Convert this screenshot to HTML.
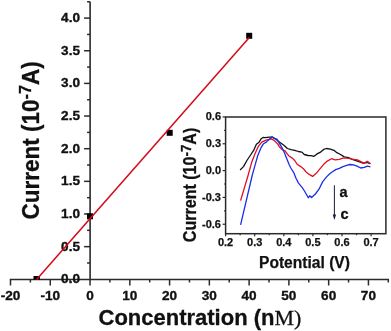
<!DOCTYPE html>
<html><head><meta charset="utf-8"><style>
html,body{margin:0;padding:0;background:#fff;}
svg{display:block;will-change:transform;}
text{font-family:"Liberation Sans", sans-serif;font-weight:bold;fill:#111;}
.tl{font-size:13.6px;stroke:#111;stroke-width:0.35px;}
.it{font-size:11px;stroke:#111;stroke-width:0.25px;}
.big{font-size:22px;stroke:#111;stroke-width:0.3px;}
.mid{font-size:15.6px;stroke:#111;stroke-width:0.25px;}
.ab{font-size:14.5px;stroke:#111;stroke-width:0.3px;}
</style></head><body>
<svg width="391" height="331" viewBox="0 0 391 331">
<rect width="391" height="331" fill="#fff"/>
<line x1="90.1" y1="1.8" x2="90.1" y2="280.3" stroke="#2a2a2a" stroke-width="1.6"/>
<line x1="9.8" y1="279.5" x2="389.0" y2="279.5" stroke="#2a2a2a" stroke-width="1.6"/>
<text x="80.0" y="283.20" text-anchor="end" class="tl">0.0</text>
<line x1="87.1" y1="262.98" x2="90.1" y2="262.98" stroke="#2a2a2a" stroke-width="1.5"/>
<line x1="84.1" y1="246.65" x2="90.1" y2="246.65" stroke="#2a2a2a" stroke-width="1.5"/>
<text x="80.0" y="250.55" text-anchor="end" class="tl">0.5</text>
<line x1="87.1" y1="230.33" x2="90.1" y2="230.33" stroke="#2a2a2a" stroke-width="1.5"/>
<line x1="84.1" y1="214.00" x2="90.1" y2="214.00" stroke="#2a2a2a" stroke-width="1.5"/>
<text x="80.0" y="217.90" text-anchor="end" class="tl">1.0</text>
<line x1="87.1" y1="197.68" x2="90.1" y2="197.68" stroke="#2a2a2a" stroke-width="1.5"/>
<line x1="84.1" y1="181.35" x2="90.1" y2="181.35" stroke="#2a2a2a" stroke-width="1.5"/>
<text x="80.0" y="185.25" text-anchor="end" class="tl">1.5</text>
<line x1="87.1" y1="165.03" x2="90.1" y2="165.03" stroke="#2a2a2a" stroke-width="1.5"/>
<line x1="84.1" y1="148.70" x2="90.1" y2="148.70" stroke="#2a2a2a" stroke-width="1.5"/>
<text x="80.0" y="152.60" text-anchor="end" class="tl">2.0</text>
<line x1="87.1" y1="132.38" x2="90.1" y2="132.38" stroke="#2a2a2a" stroke-width="1.5"/>
<line x1="84.1" y1="116.05" x2="90.1" y2="116.05" stroke="#2a2a2a" stroke-width="1.5"/>
<text x="80.0" y="119.95" text-anchor="end" class="tl">2.5</text>
<line x1="87.1" y1="99.73" x2="90.1" y2="99.73" stroke="#2a2a2a" stroke-width="1.5"/>
<line x1="84.1" y1="83.40" x2="90.1" y2="83.40" stroke="#2a2a2a" stroke-width="1.5"/>
<text x="80.0" y="87.30" text-anchor="end" class="tl">3.0</text>
<line x1="87.1" y1="67.08" x2="90.1" y2="67.08" stroke="#2a2a2a" stroke-width="1.5"/>
<line x1="84.1" y1="50.75" x2="90.1" y2="50.75" stroke="#2a2a2a" stroke-width="1.5"/>
<text x="80.0" y="54.65" text-anchor="end" class="tl">3.5</text>
<line x1="87.1" y1="34.43" x2="90.1" y2="34.43" stroke="#2a2a2a" stroke-width="1.5"/>
<line x1="84.1" y1="18.10" x2="90.1" y2="18.10" stroke="#2a2a2a" stroke-width="1.5"/>
<text x="80.0" y="22.00" text-anchor="end" class="tl">4.0</text>
<line x1="87.1" y1="1.78" x2="90.1" y2="1.78" stroke="#2a2a2a" stroke-width="1.5"/>
<line x1="10.50" y1="279.5" x2="10.50" y2="285.5" stroke="#2a2a2a" stroke-width="1.5"/>
<text x="10.50" y="299.6" text-anchor="middle" class="tl">-20</text>
<line x1="30.38" y1="279.5" x2="30.38" y2="282.5" stroke="#2a2a2a" stroke-width="1.5"/>
<line x1="50.27" y1="279.5" x2="50.27" y2="285.5" stroke="#2a2a2a" stroke-width="1.5"/>
<text x="50.27" y="299.6" text-anchor="middle" class="tl">-10</text>
<line x1="70.16" y1="279.5" x2="70.16" y2="282.5" stroke="#2a2a2a" stroke-width="1.5"/>
<line x1="90.04" y1="279.5" x2="90.04" y2="285.5" stroke="#2a2a2a" stroke-width="1.5"/>
<text x="90.04" y="299.6" text-anchor="middle" class="tl">0</text>
<line x1="109.92" y1="279.5" x2="109.92" y2="282.5" stroke="#2a2a2a" stroke-width="1.5"/>
<line x1="129.81" y1="279.5" x2="129.81" y2="285.5" stroke="#2a2a2a" stroke-width="1.5"/>
<text x="129.81" y="299.6" text-anchor="middle" class="tl">10</text>
<line x1="149.69" y1="279.5" x2="149.69" y2="282.5" stroke="#2a2a2a" stroke-width="1.5"/>
<line x1="169.58" y1="279.5" x2="169.58" y2="285.5" stroke="#2a2a2a" stroke-width="1.5"/>
<text x="169.58" y="299.6" text-anchor="middle" class="tl">20</text>
<line x1="189.47" y1="279.5" x2="189.47" y2="282.5" stroke="#2a2a2a" stroke-width="1.5"/>
<line x1="209.35" y1="279.5" x2="209.35" y2="285.5" stroke="#2a2a2a" stroke-width="1.5"/>
<text x="209.35" y="299.6" text-anchor="middle" class="tl">30</text>
<line x1="229.23" y1="279.5" x2="229.23" y2="282.5" stroke="#2a2a2a" stroke-width="1.5"/>
<line x1="249.12" y1="279.5" x2="249.12" y2="285.5" stroke="#2a2a2a" stroke-width="1.5"/>
<text x="249.12" y="299.6" text-anchor="middle" class="tl">40</text>
<line x1="269.00" y1="279.5" x2="269.00" y2="282.5" stroke="#2a2a2a" stroke-width="1.5"/>
<line x1="288.89" y1="279.5" x2="288.89" y2="285.5" stroke="#2a2a2a" stroke-width="1.5"/>
<text x="288.89" y="299.6" text-anchor="middle" class="tl">50</text>
<line x1="308.77" y1="279.5" x2="308.77" y2="282.5" stroke="#2a2a2a" stroke-width="1.5"/>
<line x1="328.66" y1="279.5" x2="328.66" y2="285.5" stroke="#2a2a2a" stroke-width="1.5"/>
<text x="328.66" y="299.6" text-anchor="middle" class="tl">60</text>
<line x1="348.55" y1="279.5" x2="348.55" y2="282.5" stroke="#2a2a2a" stroke-width="1.5"/>
<line x1="368.43" y1="279.5" x2="368.43" y2="285.5" stroke="#2a2a2a" stroke-width="1.5"/>
<text x="368.43" y="299.6" text-anchor="middle" class="tl">70</text>
<line x1="388.31" y1="279.5" x2="388.31" y2="282.5" stroke="#2a2a2a" stroke-width="1.5"/>
<rect x="33.5" y="276.0" width="6.5" height="3.5" fill="#000"/>
<rect x="87.00" y="213.30" width="6" height="6" fill="#000"/>
<rect x="166.70" y="129.80" width="6" height="6" fill="#000"/>
<rect x="246.20" y="32.80" width="6" height="6" fill="#000"/>
<line x1="36.6" y1="279.5" x2="249.3" y2="37.4" stroke="#d40818" stroke-width="1.5"/>
<text x="98.5" y="325.2" class="big">Concentration (n<tspan font-family="Liberation Serif" font-weight="normal">M)</tspan></text>
<text transform="translate(38.6,219.4) rotate(-90) scale(1.022,1.06)" class="big">Current (10<tspan dy="-7" font-size="16">-7</tspan><tspan dy="7">A)</tspan></text>
<rect x="225.6" y="117.0" width="160.29999999999998" height="116.69999999999999" fill="none" stroke="#2a2a2a" stroke-width="1.5"/>
<line x1="222.6" y1="116.96" x2="225.6" y2="116.96" stroke="#2a2a2a" stroke-width="1.2"/>
<text x="221" y="120.26" text-anchor="end" class="it">0.6</text>
<line x1="224.1" y1="130.37" x2="225.6" y2="130.37" stroke="#2a2a2a" stroke-width="1.2"/>
<line x1="222.6" y1="143.78" x2="225.6" y2="143.78" stroke="#2a2a2a" stroke-width="1.2"/>
<text x="221" y="147.08" text-anchor="end" class="it">0.3</text>
<line x1="224.1" y1="157.19" x2="225.6" y2="157.19" stroke="#2a2a2a" stroke-width="1.2"/>
<line x1="222.6" y1="170.60" x2="225.6" y2="170.60" stroke="#2a2a2a" stroke-width="1.2"/>
<text x="221" y="173.90" text-anchor="end" class="it">0.0</text>
<line x1="224.1" y1="184.01" x2="225.6" y2="184.01" stroke="#2a2a2a" stroke-width="1.2"/>
<line x1="222.6" y1="197.42" x2="225.6" y2="197.42" stroke="#2a2a2a" stroke-width="1.2"/>
<text x="221" y="200.72" text-anchor="end" class="it">-0.3</text>
<line x1="224.1" y1="210.83" x2="225.6" y2="210.83" stroke="#2a2a2a" stroke-width="1.2"/>
<line x1="222.6" y1="224.24" x2="225.6" y2="224.24" stroke="#2a2a2a" stroke-width="1.2"/>
<text x="221" y="227.54" text-anchor="end" class="it">-0.6</text>
<line x1="225.60" y1="233.7" x2="225.60" y2="236.2" stroke="#2a2a2a" stroke-width="1.2"/>
<text x="225.60" y="245.5" text-anchor="middle" class="it">0.2</text>
<line x1="240.15" y1="233.7" x2="240.15" y2="235.2" stroke="#2a2a2a" stroke-width="1.2"/>
<line x1="254.70" y1="233.7" x2="254.70" y2="236.2" stroke="#2a2a2a" stroke-width="1.2"/>
<text x="254.70" y="245.5" text-anchor="middle" class="it">0.3</text>
<line x1="269.25" y1="233.7" x2="269.25" y2="235.2" stroke="#2a2a2a" stroke-width="1.2"/>
<line x1="283.80" y1="233.7" x2="283.80" y2="236.2" stroke="#2a2a2a" stroke-width="1.2"/>
<text x="283.80" y="245.5" text-anchor="middle" class="it">0.4</text>
<line x1="298.35" y1="233.7" x2="298.35" y2="235.2" stroke="#2a2a2a" stroke-width="1.2"/>
<line x1="312.90" y1="233.7" x2="312.90" y2="236.2" stroke="#2a2a2a" stroke-width="1.2"/>
<text x="312.90" y="245.5" text-anchor="middle" class="it">0.5</text>
<line x1="327.45" y1="233.7" x2="327.45" y2="235.2" stroke="#2a2a2a" stroke-width="1.2"/>
<line x1="342.00" y1="233.7" x2="342.00" y2="236.2" stroke="#2a2a2a" stroke-width="1.2"/>
<text x="342.00" y="245.5" text-anchor="middle" class="it">0.6</text>
<line x1="356.55" y1="233.7" x2="356.55" y2="235.2" stroke="#2a2a2a" stroke-width="1.2"/>
<line x1="371.10" y1="233.7" x2="371.10" y2="236.2" stroke="#2a2a2a" stroke-width="1.2"/>
<text x="371.10" y="245.5" text-anchor="middle" class="it">0.7</text>
<polyline points="240.1,170.0 243.5,166.6 246.9,160.5 249.6,156.5 253.6,150.4 256.4,144.3 259.1,142.2 261.1,138.8 263.1,137.5 264.8,137.7 267.3,137.4 269.7,137.1 272.1,137.1 274.5,138.3 276.9,140.1 279.3,141.9 281.8,143.7 284.2,145.5 287.4,148.5 291.0,149.7 294.7,150.3 298.3,151.5 301.9,152.1 304.3,154.5 308.0,155.5 311.0,155.7 314.0,156.3 317.0,153.9 320.6,152.1 323.7,149.4 326.6,148.5 330.3,149.1 333.9,150.3 336.9,152.7 340.5,154.5 344.2,156.9 348.6,157.7 352.3,159.5 355.9,160.7 359.5,161.9 363.1,163.1 366.8,162.5 370.4,163.7" fill="none" stroke="#111" stroke-width="1.3" stroke-linejoin="round"/>
<polyline points="240.6,200.6 248.2,175.0 251.6,162.6 255.0,153.8 258.4,146.3 261.8,142.2 266.0,140.1 269.1,139.5 271.5,138.9 274.5,140.7 277.5,143.7 279.3,146.7 282.4,149.8 285.0,150.9 288.6,155.7 292.3,158.1 294.7,160.5 297.1,164.2 300.7,166.6 303.1,168.4 306.1,172.0 309.2,174.4 312.6,176.4 316.2,173.3 319.5,169.4 323.5,164.6 327.3,161.1 331.5,158.7 335.1,159.9 339.3,159.3 343.0,158.1 346.6,158.1 350.2,158.7 353.8,159.3 357.5,159.9 361.3,161.9 364.3,163.1 367.4,161.3 370.4,163.7" fill="none" stroke="#dd1122" stroke-width="1.3" stroke-linejoin="round"/>
<polyline points="240.6,224.9 252.3,175.0 255.0,165.3 257.7,155.8 261.1,147.6 263.6,143.7 266.6,141.9 269.7,138.9 272.1,136.7 274.5,138.6 276.9,139.1 279.3,143.1 281.8,147.3 284.2,152.2 286.6,158.2 289.0,164.3 290.8,168.0 293.6,172.3 296.0,178.3 298.5,183.1 302.1,187.4 304.5,191.0 308.3,197.8 309.8,195.8 311.6,197.5 315.4,194.0 319.0,189.2 322.6,181.9 326.3,177.1 330.0,173.5 332.1,172.0 335.7,169.6 339.3,168.4 343.0,166.6 346.6,165.4 350.0,164.5 353.5,164.9 357.1,166.1 360.7,168.0 364.3,167.4 367.4,166.1 370.4,166.8" fill="none" stroke="#1a2ee8" stroke-width="1.3" stroke-linejoin="round"/>
<line x1="334.4" y1="185.3" x2="334.4" y2="216" stroke="#1a1a3a" stroke-width="1"/>
<path d="M332.7,214.6 L336.1,214.6 L334.4,220 Z" fill="#1a1a3a"/>
<text x="339.6" y="196.6" class="ab">a</text>
<text x="340.6" y="218.6" class="ab">c</text>
<text x="259" y="267.7" class="mid">Potential (V)</text>
<text transform="translate(196.0,242.2) rotate(-90) scale(1.03,1.15)" class="mid">Current (10<tspan dy="-4.5" font-size="13">-7</tspan><tspan dy="4.5">A)</tspan></text>
</svg></body></html>
